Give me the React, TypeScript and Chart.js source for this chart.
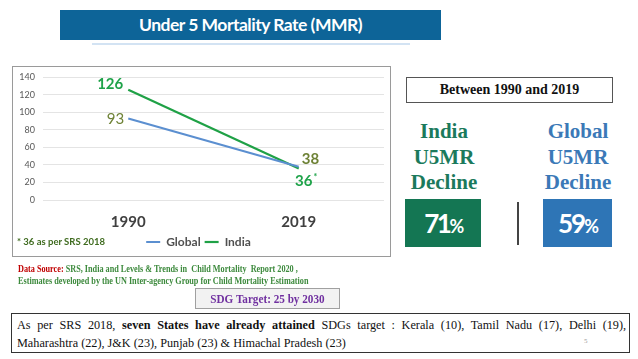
import React, { useEffect, useRef } from "react";
import { Chart, registerables } from "chart.js";

Chart.register(...registerables);

const categories = ["1990", "2019"];
const globalValues = [93, 38];
const indiaValues = [126, 36];
const globalLabels = ["93", "38"];
const indiaLabels = ["126", "36"];
const yMin = 0;
const yMax = 140;
const yStep = 20;

const declineIndia = "71";
const declineGlobal = "59";

const GLOBAL_COLOR = "#5b8fd0";
const INDIA_COLOR = "#1fa146";
const OLIVE = "#6e8236";
const LABEL_GREEN = "#1fa34a";

const labelPlugin = {
  id: "pointLabels",
  afterDatasetsDraw(chart: any) {
    const ctx = chart.ctx;
    ctx.save();
    ctx.textBaseline = "middle";
    const gMeta = chart.getDatasetMeta(0);
    const iMeta = chart.getDatasetMeta(1);
    const gp0 = gMeta.data[0];
    const gp1 = gMeta.data[1];
    const ip0 = iMeta.data[0];
    const ip1 = iMeta.data[1];
    ctx.font = "15px Lato";
    ctx.fillStyle = OLIVE;
    ctx.textAlign = "right";
    ctx.fillText(globalLabels[0], gp0.x - 4, gp0.y + 0.5);
    ctx.font = "bold 15px Lato";
    ctx.textAlign = "left";
    ctx.fillText(globalLabels[1], gp1.x + 3, gp1.y - 8);
    ctx.fillStyle = LABEL_GREEN;
    ctx.textAlign = "right";
    ctx.fillText(indiaLabels[0], ip0.x - 5, ip0.y - 6);
    ctx.textAlign = "center";
    ctx.fillText(indiaLabels[1], ip1.x + 5, ip1.y + 13);
    const w = ctx.measureText(indiaLabels[1]).width;
    ctx.font = "bold 9px Lato";
    ctx.textAlign = "left";
    ctx.fillText("*", ip1.x + 5 + w / 2 + 1, ip1.y + 9);
    ctx.restore();
  },
};

function LineChart() {
  const ref = useRef<HTMLCanvasElement | null>(null);
  useEffect(() => {
    if (!ref.current) return;
    const chart = new Chart(ref.current, {
      type: "line",
      data: {
        labels: categories,
        datasets: [
          {
            label: "Global",
            data: globalValues,
            borderColor: GLOBAL_COLOR,
            backgroundColor: GLOBAL_COLOR,
            borderWidth: 2,
            pointRadius: 0,
            tension: 0,
          },
          {
            label: "India",
            data: indiaValues,
            borderColor: INDIA_COLOR,
            backgroundColor: INDIA_COLOR,
            borderWidth: 2.2,
            pointRadius: 0,
            tension: 0,
          },
        ],
      },
      options: {
        animation: false,
        responsive: false,
        maintainAspectRatio: false,
        layout: { padding: { top: 0, right: 5, left: 0, bottom: 0 } },
        plugins: {
          legend: {
            position: "bottom",
            labels: {
              usePointStyle: true,
              pointStyle: "line",
              pointStyleWidth: 14,
              boxHeight: 8,
              color: "#505050",
              font: { family: "Lato", size: 12, weight: "bold" },
              padding: 4,
            },
          },
          tooltip: { enabled: false },
        },
        scales: {
          x: {
            offset: true,
            grid: { display: false, drawTicks: false },
            border: { display: false },
            ticks: {
              color: "#404040",
              font: { family: "Lato", size: 15, weight: "bold" },
              padding: 13,
            },
            afterFit: (s: any) => {
              s.height = 32;
            },
          },
          y: {
            min: yMin,
            max: yMax,
            grid: { color: "#e4e4e4", drawTicks: false },
            border: { display: false },
            ticks: {
              stepSize: yStep,
              color: "#595959",
              font: { family: "Lato", size: 9 },
              padding: 8,
            },
            afterFit: (s: any) => {
              s.width = 30;
            },
          },
        },
      },
      plugins: [labelPlugin],
    });
    return () => chart.destroy();
  }, []);
  return (
    <canvas
      ref={ref}
      width={376}
      height={194}
      style={{ position: "absolute", left: 13, top: 64, width: 376, height: 194 }}
    />
  );
}

const abs = (o: React.CSSProperties): React.CSSProperties => ({ position: "absolute", ...o });
const serif = "'Liberation Serif', 'Times New Roman', serif";

export default function App() {
  return (
    <div style={abs({ left: 0, top: 0, width: 638, height: 359, background: "#fff", overflow: "hidden", fontFamily: "Lato" })}>
      {/* Title */}
      <div
        style={abs({
          left: 60,
          top: 10,
          width: 381,
          height: 30,
          background: "#0d6498",
          color: "#fff",
          fontFamily: "Lato",
          fontWeight: 700,
          fontSize: 17.5,
          lineHeight: "30px",
          textAlign: "center",
          letterSpacing: -0.5,
        })}
      >
        Under 5 Mortality Rate (MMR)
      </div>
      <div style={abs({ left: 92, top: 43, width: 318, height: 2, background: "#d3e3f3" })} />

      {/* Chart box */}
      <div style={abs({ left: 12, top: 66, width: 377, height: 189, border: "1px solid #9a9a9a" })} />
      <LineChart />
      <div
        style={abs({
          left: 17,
          top: 236,
          fontFamily: "Lato",
          fontWeight: 700,
          fontSize: 9.5,
          color: "#3f6b1f",
          whiteSpace: "nowrap",
        })}
      >
        * 36 as per SRS 2018
      </div>

      {/* Right panel */}
      <div
        style={abs({
          left: 406,
          top: 77,
          width: 205,
          height: 24,
          border: "1px solid #555",
          fontFamily: serif,
          fontWeight: 700,
          fontSize: 14,
          lineHeight: "24px",
          textAlign: "center",
          color: "#111",
        })}
      >
        Between 1990 and 2019
      </div>
      <div
        style={abs({
          left: 394,
          top: 119,
          width: 100,
          fontFamily: serif,
          fontWeight: 700,
          fontSize: 21,
          lineHeight: "25.5px",
          textAlign: "center",
          color: "#1b7a5c",
        })}
      >
        India
        <br />
        U5MR
        <br />
        Decline
      </div>
      <div
        style={abs({
          left: 528,
          top: 119,
          width: 100,
          fontFamily: serif,
          fontWeight: 700,
          fontSize: 21,
          lineHeight: "25.5px",
          textAlign: "center",
          color: "#3b79b7",
        })}
      >
        Global
        <br />
        U5MR
        <br />
        Decline
      </div>
      <div
        style={abs({
          left: 405,
          top: 199,
          width: 76,
          height: 48,
          background: "#147653",
          color: "#fff",
          fontFamily: "Lato",
          fontWeight: 700,
          fontSize: 26,
          lineHeight: "48px",
          textAlign: "center",
          letterSpacing: -2.5,
        })}
      >
        {declineIndia}
        <span style={{ fontSize: 18 }}>%</span>
      </div>
      <div style={abs({ left: 517, top: 202, width: 2, height: 43, background: "#444" })} />
      <div
        style={abs({
          left: 543,
          top: 199,
          width: 69,
          height: 48,
          background: "#2e75b6",
          color: "#fff",
          fontFamily: "Lato",
          fontWeight: 700,
          fontSize: 26,
          lineHeight: "48px",
          textAlign: "center",
          letterSpacing: -2,
        })}
      >
        {declineGlobal}
        <span style={{ fontSize: 18 }}>%</span>
      </div>

      {/* Data source */}
      <div
        style={abs({
          left: 18,
          top: 263,
          fontFamily: serif,
          fontWeight: 700,
          fontSize: 10,
          lineHeight: "12px",
          color: "#3d8a3d",
          whiteSpace: "nowrap",
          transform: "scaleX(0.82)",
          transformOrigin: "left top",
        })}
      >
        <span style={{ color: "#c00000" }}>Data Source:</span> SRS, India and Levels &amp; Trends in&nbsp; Child Mortality&nbsp; Report 2020 ,
        <br />
        Estimates developed by the UN Inter-agency Group for Child Mortality Estimation
      </div>

      {/* SDG target */}
      <div
        style={abs({
          left: 195,
          top: 288,
          width: 143,
          height: 19,
          background: "#f2f2f2",
          border: "1px solid #a0a0a0",
          fontFamily: serif,
          fontWeight: 700,
          fontSize: 13,
          lineHeight: "19px",
          textAlign: "center",
          color: "#7030a0",
          whiteSpace: "nowrap",
        })}
      >
        <span style={{ display: "inline-block", transform: "scaleX(0.86)" }}>SDG Target: 25 by 2030</span>
      </div>

      {/* Bottom box */}
      <div
        style={abs({
          left: 11,
          top: 313,
          width: 617,
          height: 38,
          border: "1px solid #333",
        })}
      />
      <div
        style={abs({
          left: 17,
          top: 316,
          width: 648,
          fontFamily: serif,
          fontSize: 13,
          lineHeight: "18px",
          color: "#111",
          transform: "scaleX(0.94)",
          transformOrigin: "left top",
        })}
      >
        <div style={{ textAlign: "justify", textAlignLast: "justify", whiteSpace: "normal" }}>
          As per SRS 2018, <b>seven States have already attained</b> SDGs target : Kerala (10), Tamil Nadu (17), Delhi (19),
        </div>
        <div style={{ whiteSpace: "nowrap" }}>
          Maharashtra (22), J&amp;K (23), Punjab (23) &amp; Himachal Pradesh (23)
        </div>
      </div>
      <div style={abs({ left: 584, top: 337, fontFamily: serif, fontSize: 7, color: "#999" })}>5</div>
    </div>
  );
}
